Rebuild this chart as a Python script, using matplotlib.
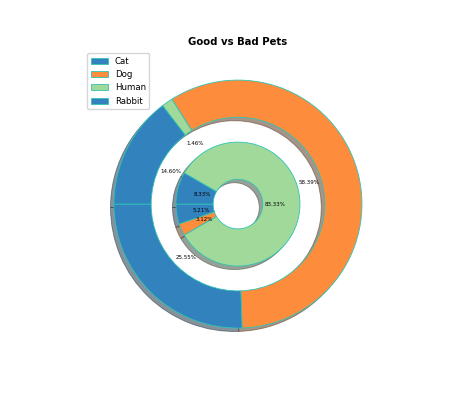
import matplotlib
matplotlib.use('Agg')
import matplotlib.pyplot as plt

labels = ['Cat', 'Dog', 'Human', 'Rabbit']
outer_vals = [35, 80, 2, 20]
inner_vals = [5, 3, 80, 8]
colors = ['#3182bd', '#fd8d3c', '#a1d99b', '#3182bd']

fig = plt.figure(figsize=(4.74, 4.09), dpi=100)
ax = fig.add_axes([0.175, 0.122, 0.654, 0.758])

wp = dict(width=0.3, edgecolor='#2ec4b6', linewidth=0.6)
ax.pie(outer_vals, radius=1, colors=colors, startangle=180, shadow=True,
       autopct='%.2f%%', pctdistance=0.6, wedgeprops=wp,
       textprops=dict(fontsize=4))
ax.pie(inner_vals, radius=0.5, colors=colors, startangle=180, shadow=True,
       autopct='%.2f%%', pctdistance=0.6, wedgeprops=wp,
       textprops=dict(fontsize=4))

ax.set_aspect('equal')
ax.set_title('Good vs Bad Pets', fontsize=7.3, fontweight='bold', pad=3)
ax.legend(labels, loc='upper left', fontsize=6.2)

fig.savefig('out.png')
